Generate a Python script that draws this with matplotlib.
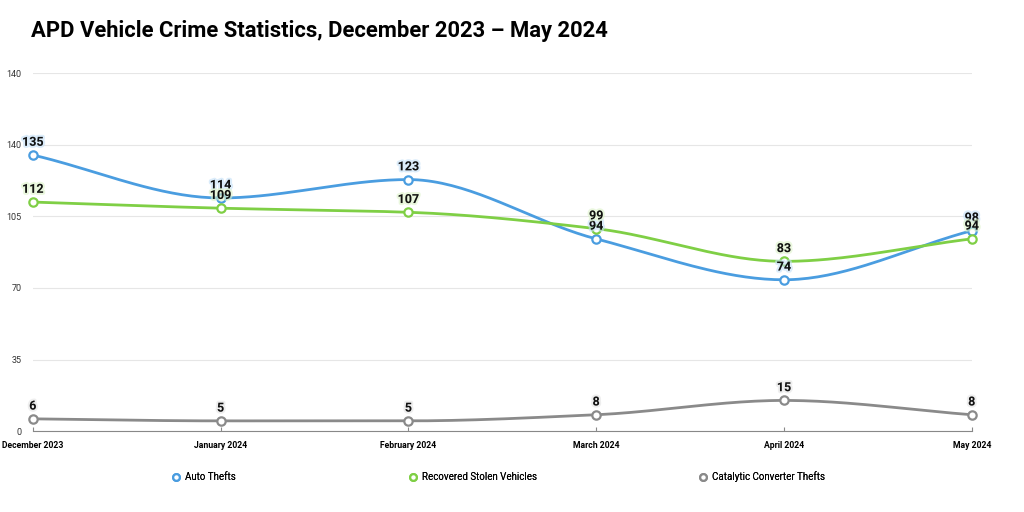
import numpy as np
import matplotlib.pyplot as plt
import matplotlib.patheffects as pe

months = ['December 2023', 'January 2024', 'February 2024', 'March 2024', 'April 2024', 'May 2024']
auto_thefts = [135, 114, 123, 94, 74, 98]
recovered = [112, 109, 107, 99, 83, 94]
catalytic = [6, 5, 5, 8, 15, 8]
yticks = [0, 35, 70, 105, 140, 175]
ytick_labels = ['0', '35', '70', '105', '140', '140']

FONT = ['Roboto', 'DejaVu Sans']


def monotone(x, y, n=40):
    # Fritsch-Carlson monotone cubic, only for drawing the smooth line
    x = np.asarray(x, float)
    y = np.asarray(y, float)
    h = np.diff(x)
    d = np.diff(y) / h
    m = np.zeros_like(y)
    m[0], m[-1] = d[0], d[-1]
    for i in range(1, len(y) - 1):
        if d[i - 1] * d[i] <= 0:
            m[i] = 0
        else:
            m[i] = 2 / (1 / d[i - 1] + 1 / d[i])
    xs, ys = [], []
    for i in range(len(h)):
        t = np.linspace(0, 1, n)
        h00 = 2 * t**3 - 3 * t**2 + 1
        h10 = t**3 - 2 * t**2 + t
        h01 = -2 * t**3 + 3 * t**2
        h11 = t**3 - t**2
        xs.append(x[i] + t * h[i])
        ys.append(h00 * y[i] + h10 * h[i] * m[i] + h01 * y[i + 1] + h11 * h[i] * m[i + 1])
    return np.concatenate(xs), np.concatenate(ys)


fig = plt.figure(figsize=(10.24, 5.12), dpi=100)
ax = fig.add_axes([0.032, 0.158, 0.917, 0.699])

series = [
    ('Auto Thefts', auto_thefts, '#4a9de0', '#c4e0f8'),
    ('Recovered Stolen Vehicles', recovered, '#7fcf45', '#dcf3c8'),
    ('Catalytic Converter Thefts', catalytic, '#8a8a8a', '#e4e4e4'),
]
x = np.arange(len(months))
handles = []
for name, vals, col, glow in series:
    sx, sy = monotone(x, vals)
    ax.plot(sx, sy, color=col, lw=2, clip_on=False, zorder=3)
    h, = ax.plot(x, vals, 'o', ms=6, mfc='white', mec=col, mew=1.6, clip_on=False,
                 zorder=4, label=name, color=col)
    handles.append(h)
    for xi, v in zip(x, vals):
        ax.annotate(str(v), (xi, v), xytext=(0, 4.5), textcoords='offset points',
                    ha='center', va='bottom', fontsize=9, fontweight='bold',
                    family=FONT, color='#111111', zorder=5,
                    path_effects=[pe.withStroke(linewidth=3, foreground=glow, alpha=0.6)])

ax.set_xlim(0, 5)
ax.set_ylim(0, 175)
ax.set_yticks(yticks)
ax.set_yticklabels(ytick_labels)
ax.set_xticks(x)
ax.set_xticklabels(months, fontweight='bold')
ax.tick_params(axis='y', length=0, labelsize=6.5, pad=8, colors='#333333')
ax.tick_params(axis='x', length=3, direction='in', labelsize=6.2, pad=7, color='#888888')
for lbl in ax.get_xticklabels() + ax.get_yticklabels():
    lbl.set_family(FONT)
ax.grid(axis='y', color='#e6e6e6', lw=0.8)
for s in ['top', 'right', 'left']:
    ax.spines[s].set_visible(False)
ax.spines['bottom'].set_color('#888888')
ax.set_axisbelow(True)

fig.text(0.03, 0.94, 'APD Vehicle Crime Statistics, December 2023 \u2013 May 2024',
         fontsize=15.8, fontweight='bold', family=FONT, va='center', ha='left')

for h, mx in zip(handles, [176, 413, 703]):
    leg = fig.legend(handles=[h], loc='center left', bbox_to_anchor=((mx - 5) / 1024, 1 - 477 / 512),
                     frameon=False, borderpad=0, borderaxespad=0, handlelength=1,
                     handletextpad=0.4, markerscale=0.8,
                     prop={'family': FONT, 'size': 7})
    fig.add_artist(leg)

fig.savefig('out.png', dpi=100, facecolor='white')
